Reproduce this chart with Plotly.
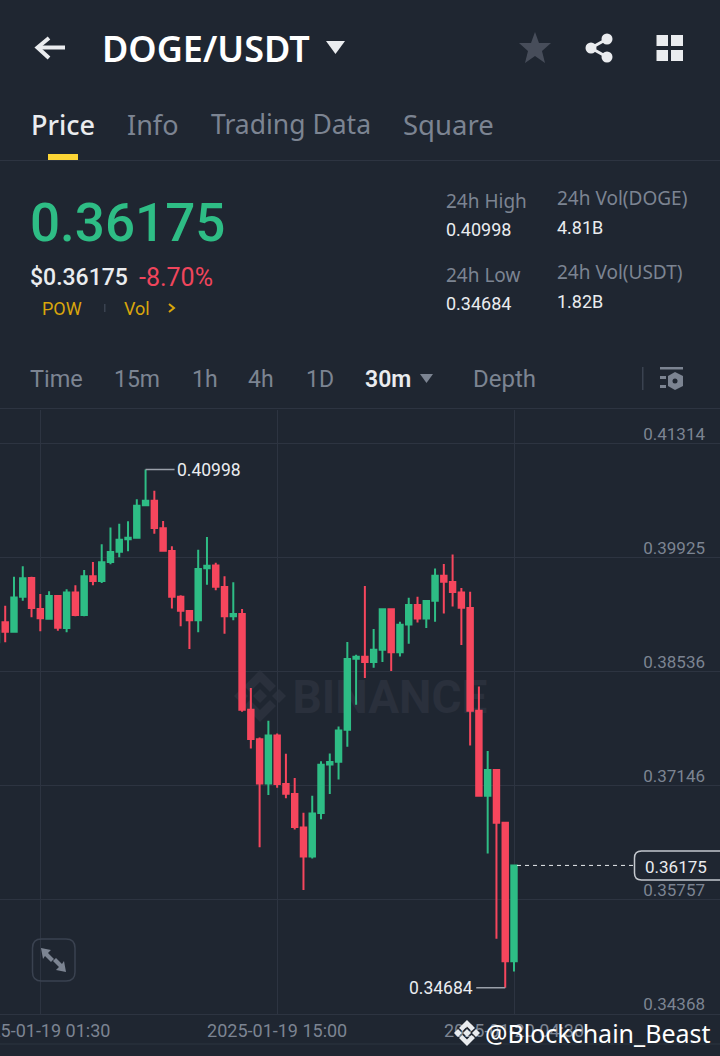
import pandas as pd
import plotly.graph_objects as go

W = 720
H = 1056
BG = "#1f2631"
GRID = "#2d3441"
GREEN = "#2ebd85"
RED = "#f6465d"
GRAY = "#7c8492"
WHITE = "#eaecef"
GOLD = "#d9a50c"
NUM = "Roboto"
TXT = "Noto Sans"

times = pd.date_range("2025-01-18 23:00", periods=60, freq="30min")
opens = [.38893, .39137, .39023, .39450, .39677, .39299, .39181, .39458, .39068, .39502,
         .39226, .39697, .39640, .39872, .39998, .40148, .40169, .40563, .40619, .40282,
         .40006, .39450, .39275, .39161, .39795, .39831, .39567, .39210, .39239, .38073,
         .37711, .37174, .37758, .37167, .37045, .36638, .36285, .36814, .37406, .37439,
         .37829, .38694, .38718, .38654, .38804, .39295, .38771, .39112, .39348, .39185,
         .39401, .39705, .39629, .39502, .39312, .38060, .37025, .37338, .36695, .35006]
highs = [.39035, .39340, .39693, .39819, .39693, .39482, .39515, .39458, .39539, .39588,
         .39775, .39872, .40087, .40294, .40339, .40368, .40636, .40998, .40741, .40372,
         .40063, .39466, .39275, .40022, .40177, .39864, .39697, .39624, .39300, .38337,
         .37735, .37939, .37783, .37536, .37240, .36817, .37025, .37443, .37540, .37869,
         .38897, .38743, .39580, .39056, .39300, .39300, .39145, .39437, .39450, .39404,
         .39794, .39848, .39965, .39556, .39510, .38356, .37569, .37338, .36695, .36184]
lows = [.38893, .38893, .39015, .39401, .39198, .39027, .39169, .39035, .39015, .39210,
        .39210, .39588, .39616, .39844, .39929, .40002, .40165, .40554, .40217, .40002,
        .39307, .39088, .38812, .39015, .39596, .39527, .38999, .39161, .38048, .37601,
        .36395, .37033, .37122, .36992, .36614, .35875, .36260, .36736, .37045, .37223,
        .37622, .38133, .38458, .38584, .38654, .38544, .38722, .38877, .39136, .39068,
        .39145, .39246, .39331, .38861, .37637, .37025, .36321, .35282, .34684, .34883]
closes = [.39035, .39023, .39441, .39673, .39311, .39186, .39458, .39072, .39502, .39226,
          .39697, .39640, .39868, .39994, .40144, .40169, .40559, .40619, .40286, .40010,
          .39450, .39279, .39161, .39787, .39827, .39571, .39210, .39238, .38073, .37716,
          .37174, .37758, .37167, .37049, .36643, .36285, .36809, .37402, .37435, .37820,
          .38690, .38718, .38654, .38804, .39295, .38771, .39108, .39348, .39185, .39397,
          .39705, .39632, .39507, .39316, .38060, .37025, .37338, .36695, .35006, .36175]

price_ticks = [.41314, .39925, .38536, .37146, .35757, .34368]
time_ticks = ["2025-01-19 01:30", "2025-01-19 15:00", "2025-01-20 04:30"]
high_time = "2025-01-19 07:30"
low_time = "2025-01-20 04:00"
high_price = .40998
low_price = .34684
last_time = "2025-01-20 04:30"
last_price = .36175


# pixel position on the page -> paper coords
def px(x):
    return x / W


def py(y):
    return 1 - y / H


def poly(points, close=True):
    d = "M" + " L".join(f"{px(x):.5f},{py(y):.5f}" for x, y in points)
    return d + (" Z" if close else "")


def fill_shape(points, color, layer="above"):
    return dict(type="path", xref="paper", yref="paper", path=poly(points), fillcolor=color,
                line=dict(width=0), layer=layer)


def stroke_shape(points, color, width=2, layer="above"):
    return dict(type="path", xref="paper", yref="paper", path=poly(points, False),
                line=dict(color=color, width=width), layer=layer)


def rect(x0, y0, x1, y1, color, layer="above"):
    return fill_shape([(x0, y0), (x1, y0), (x1, y1), (x0, y1)], color, layer)


def circle(cx, cy, r, color):
    return dict(type="circle", xref="paper", yref="paper", x0=px(cx - r), x1=px(cx + r),
                y0=py(cy - r), y1=py(cy + r), fillcolor=color, line=dict(width=0))


def label(text, x, y, size, color, family=TXT, weight=400, anchor="left"):
    return dict(text=text, x=px(x - 1), y=py(y), xref="paper", yref="paper", showarrow=False,
                xanchor=anchor, yanchor="middle", borderpad=0,
                font=dict(size=size, color=color, family=family, weight=weight))


def round_rect(x0, y0, x1, y1, r, line, fill=None):
    p = (f"M{px(x0 + r):.5f},{py(y0):.5f} L{px(x1 - r):.5f},{py(y0):.5f} "
         f"Q{px(x1):.5f},{py(y0):.5f} {px(x1):.5f},{py(y0 + r):.5f} L{px(x1):.5f},{py(y1 - r):.5f} "
         f"Q{px(x1):.5f},{py(y1):.5f} {px(x1 - r):.5f},{py(y1):.5f} L{px(x0 + r):.5f},{py(y1):.5f} "
         f"Q{px(x0):.5f},{py(y1):.5f} {px(x0):.5f},{py(y1 - r):.5f} L{px(x0):.5f},{py(y0 + r):.5f} "
         f"Q{px(x0):.5f},{py(y0):.5f} {px(x0 + r):.5f},{py(y0):.5f} Z")
    return dict(type="path", xref="paper", yref="paper", path=p, fillcolor=fill or "rgba(0,0,0,0)",
                line=dict(color=line, width=1.5))


fig = go.Figure()
fig.add_trace(go.Candlestick(
    x=times, open=opens, high=highs, low=lows, close=closes,
    increasing=dict(line=dict(color=GREEN, width=2), fillcolor=GREEN),
    decreasing=dict(line=dict(color=RED, width=2), fillcolor=RED),
    whiskerwidth=0, showlegend=False, hoverinfo="skip",
))

shapes = [
    # top bar
    stroke_shape([(38, 47.5), (65, 47.5)], WHITE, 4),
    stroke_shape([(49, 38), (37.5, 47.5), (49, 58)], WHITE, 4),
    fill_shape([(326, 41), (345, 41), (335.5, 54)], WHITE),
    fill_shape([(535, 32), (539, 43), (551, 43), (542, 51), (545, 63), (535, 56), (525, 63),
                (528, 51), (519, 43), (531, 43)], "#474d5a"),
    stroke_shape([(607, 39), (591, 48), (607, 57)], WHITE, 3),
    circle(607, 39, 5.5, WHITE), circle(591, 48, 5.5, WHITE), circle(607, 57, 5.5, WHITE),
    rect(656.5, 35, 668, 46, WHITE), rect(671, 35, 683, 46, WHITE),
    rect(656.5, 50, 668, 61, WHITE), rect(671, 50, 683, 61, WHITE),
    # tabs
    rect(48, 154, 78, 160, "#fcd535"),
    rect(0, 160, W, 161, GRID),
    # small marks in the header block
    rect(104, 304, 105.5, 312, "#3a4250"),
    stroke_shape([(169, 304), (174, 308), (169, 312)], GOLD, 2),
    fill_shape([(420, 374), (433, 374), (426.5, 383)], GRAY),
    rect(642, 367, 643.5, 390, "#3a4250"),
    rect(660, 367, 683, 369.5, GRAY),
    rect(660, 376, 666, 379, GRAY), rect(660, 385, 666, 388, GRAY),
    fill_shape([(675, 372), (683, 376), (683, 386), (675, 390), (668, 386), (668, 376)], GRAY),
    circle(675, 381, 2.5, BG),
    # chart frame
    rect(0, 408, W, 409, GRID),
    rect(0, 1043.5, W, 1044.5, GRID),
    # BINANCE watermark, stays under the candles
    fill_shape([(260, 670), (276, 686), (270, 692), (260, 682), (250, 692), (244, 686)], "#2a303c", "below"),
    fill_shape([(260, 722), (276, 706), (270, 700), (260, 710), (250, 700), (244, 706)], "#2a303c", "below"),
    fill_shape([(260, 689), (267, 696), (260, 703), (253, 696)], "#2a303c", "below"),
    fill_shape([(241, 689), (248, 696), (241, 703), (234, 696)], "#2a303c", "below"),
    fill_shape([(279, 689), (286, 696), (279, 703), (272, 696)], "#2a303c", "below"),
    dict(type="rect", xref="paper", yref="paper", x0=px(290), x1=px(490), y0=py(713), y1=py(675),
         line=dict(width=0), layer="below",
         label=dict(text="<b>BINANCE</b>", textposition="middle center",
                    font=dict(size=46, color="#2a303c", family=NUM))),
    # expand button
    round_rect(32.5, 939, 75, 981, 9, "#3a4250"),
    fill_shape([(41, 948), (51, 950), (48, 953), (54, 959), (51, 962), (45, 956), (43, 959)], GRAY),
    fill_shape([(66, 972), (56, 970), (59, 967), (53, 961), (56, 958), (62, 964), (64, 961)], GRAY),
    # high / low leaders and last price line
    dict(type="line", xref="x", yref="y", xsizemode="pixel", xanchor=high_time, x0=0, x1=29,
         y0=high_price, y1=high_price, line=dict(color="#9aa0aa", width=1.5)),
    dict(type="line", xref="x", yref="y", xsizemode="pixel", xanchor=low_time, x0=0, x1=-29,
         y0=low_price, y1=low_price, line=dict(color="#9aa0aa", width=1.5)),
    dict(type="line", xref="x", yref="y", xsizemode="pixel", xanchor=last_time, x0=3, x1=120,
         y0=last_price, y1=last_price, line=dict(color=WHITE, width=1, dash="4px,4px")),
    # last price box
    round_rect(634.5, 851, 730, 880, 7, "#c4c8ce", BG),
    # signature logo
    fill_shape([(467, 1020), (475, 1028), (471.5, 1031), (467, 1026.5), (462.5, 1031), (459, 1028)], WHITE),
    fill_shape([(467, 1046), (475, 1038), (471.5, 1035), (467, 1039.5), (462.5, 1035), (459, 1038)], WHITE),
    fill_shape([(467, 1029), (471, 1033), (467, 1037), (463, 1033)], WHITE),
    fill_shape([(458, 1029), (462, 1033), (458, 1037), (454, 1033)], WHITE),
    fill_shape([(476, 1029), (480, 1033), (476, 1037), (472, 1033)], WHITE),
]

annotations = [
    label("DOGE/USDT", 102, 49, 36, "#ffffff", TXT, 600),
    label("Price", 31, 124, 27, WHITE, TXT, 500),
    label("Info", 127, 124, 27, GRAY),
    label("Trading Data", 211, 124, 26.5, GRAY),
    label("Square", 403, 124, 27.5, GRAY),
    label(f"{last_price:.5f}", 30, 223, 53, GREEN, NUM, 500),
    label(f"${last_price:.5f}", 30, 277, 23, WHITE, NUM, 500),
    label("-8.70%", 139, 277, 25, "#f0455c", NUM, 400),
    label("POW", 42, 308, 18, GOLD, NUM),
    label("Vol", 124, 308, 18, GOLD, NUM),
    label("24h High", 446, 201, 19, GRAY, TXT),
    label(f"{high_price:.5f}", 446, 230, 18, WHITE, NUM),
    label("24h Low", 446, 275, 19, GRAY, TXT),
    label(f"{low_price:.5f}", 446, 304, 18, WHITE, NUM),
    label("24h Vol(DOGE)", 557, 198, 19, GRAY, TXT),
    label("4.81B", 557, 227, 18, WHITE, NUM),
    label("24h Vol(USDT)", 557, 272, 19, GRAY, TXT),
    label("1.82B", 557, 301, 18, WHITE, NUM),
    label("Time", 30, 379, 23.5, GRAY, NUM),
    label("15m", 114, 379, 23, GRAY, NUM),
    label("1h", 192, 379, 23, GRAY, NUM),
    label("4h", 248, 379, 23, GRAY, NUM),
    label("1D", 306, 379, 23, GRAY, NUM),
    label("30m", 365, 379, 23, WHITE, NUM, 600),
    label("Depth", 473, 379, 24, GRAY, NUM),
    dict(text=f"{high_price:.5f}", x=high_time, y=high_price, xref="x", yref="y", showarrow=False,
         xanchor="left", yanchor="middle", xshift=30, borderpad=0,
         font=dict(size=17.5, color=WHITE, family=NUM)),
    dict(text=f"{low_price:.5f}", x=low_time, y=low_price, xref="x", yref="y", showarrow=False,
         xanchor="right", yanchor="middle", xshift=-31, borderpad=0,
         font=dict(size=17.5, color=WHITE, family=NUM)),
    label(f"{last_price:.5f}", 645, 867, 17, WHITE, NUM),
    label("@Blockchain_Beast", 485, 1033, 25, "#ffffff", TXT),
]

fig.update_layout(
    width=W, height=H,
    margin=dict(l=0, r=0, t=0, b=0, autoexpand=False),
    paper_bgcolor=BG, plot_bgcolor=BG,
    boxgap=0.38, boxgroupgap=0,
    showlegend=False,
    shapes=shapes, annotations=annotations,
    xaxis=dict(
        type="date", range=["2025-01-18 23:12:10", "2025-01-20 16:14:30"],
        domain=[0, 1], anchor="y", rangeslider=dict(visible=False), automargin=False,
        tickmode="array", tickvals=time_ticks, tickformat="%Y-%m-%d %H:%M",
        ticklabeloverflow="allow", ticks="", ticklabelstandoff=1,
        showgrid=True, gridcolor=GRID, gridwidth=1,
        showline=True, linecolor=GRID, linewidth=1, zeroline=False,
        tickfont=dict(size=18, color=GRAY, family=NUM),
    ),
    yaxis=dict(
        range=[.34368, .41728], domain=[1 - 1013.7 / H, 1 - 409.7 / H], side="right",
        anchor="x", tickmode="array", tickvals=price_ticks, automargin=False,
        ticktext=[f"{v:.5f}" for v in price_ticks],
        ticklabelposition="inside", ticklabelshift=-10, ticklabelstandoff=12, ticks="",
        showgrid=True, gridcolor=GRID, gridwidth=1, zeroline=False,
        tickfont=dict(size=17, color=GRAY, family=NUM),
    ),
)

fig.write_html("out.html", config=dict(displayModeBar=False),
               post_script="document.body.style.margin='0';document.body.style.overflow='hidden';document.body.style.background='" + BG + "';")
